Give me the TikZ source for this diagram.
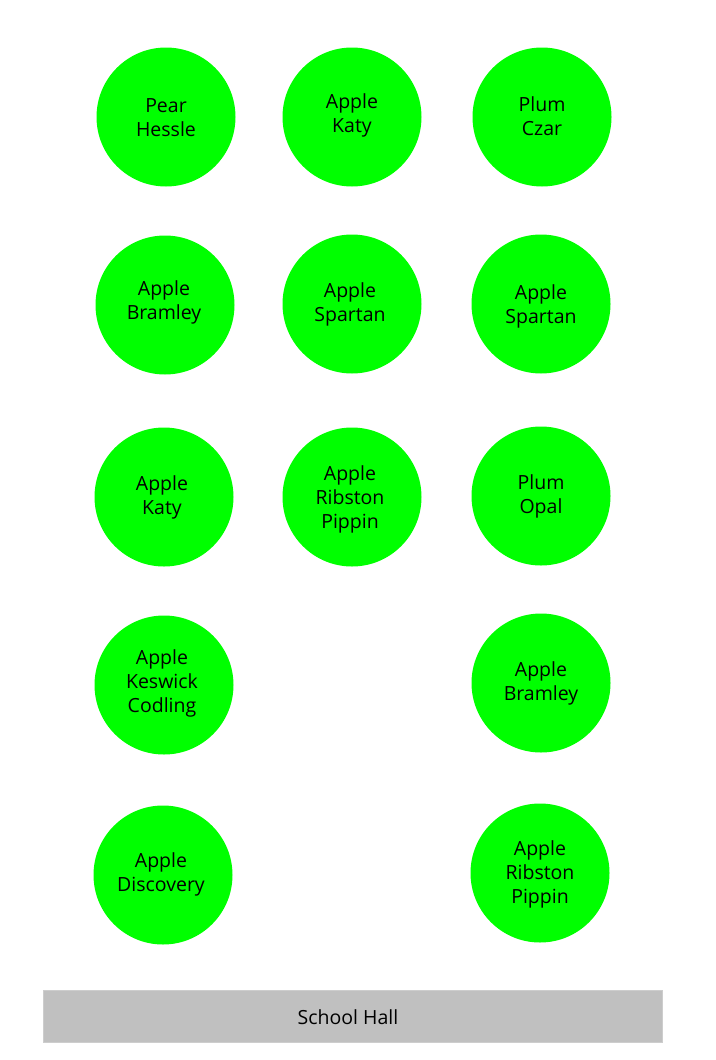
\documentclass[tikz,border=0pt]{standalone}
\usepackage{fontspec}
\setmainfont{Open Sans}
\begin{document}
\begin{tikzpicture}[x=1pt,y=-1pt,
  tree/.style={circle,fill=treegreen,draw=none,minimum size=139pt,inner sep=0pt},
  lbl/.style={align=center,inner sep=0pt,font=\fontsize{19.5}{24}\selectfont,text=black},
  hall/.style={fill=hallgray,draw=hallgray!80!white,line width=0.8pt,minimum width=619pt,minimum height=52pt,inner sep=0pt}]
\definecolor{treegreen}{HTML}{00FF00}
\definecolor{hallgray}{HTML}{C0C0C0}
\useasboundingbox (0,0) rectangle (715,1060);
\fill[white] (0,0) rectangle (715,1060);
% trees
\node[tree] (c1) at (166,117) {};
\node[tree] (c2) at (352,117) {};
\node[tree] (c3) at (542,117) {};
\node[tree] (c4) at (165,305) {};
\node[tree] (c5) at (352,304) {};
\node[tree] (c6) at (541,304) {};
\node[tree] (c7) at (164,497) {};
\node[tree] (c8) at (352,497) {};
\node[tree] (c9) at (541,496) {};
\node[tree] (c10) at (164,685) {};
\node[tree] (c11) at (541,683) {};
\node[tree] (c12) at (163,875) {};
\node[tree] (c13) at (540,873) {};
% labels
\node[lbl] (t1) at (166,118) {Pear\\Hessle};
\node[lbl] (t2) at (352,115) {Apple\\Katy};
\node[lbl] (t3) at (542,116) {Plum\\Czar};
\node[lbl] (t4) at (164,302) {Apple\\Bramley};
\node[lbl] (t5) at (350,304) {Apple\\Spartan};
\node[lbl] (t6) at (541,306) {Apple\\Spartan};
\node[lbl] (t7) at (162,497) {Apple\\Katy};
\node[lbl] (t8) at (350,499) {Apple\\Ribston\\Pippin};
\node[lbl] (t9) at (541,496) {Plum\\Opal};
\node[lbl] (t10) at (162,683) {Apple\\Keswick\\Codling};
\node[lbl] (t11) at (541,683) {Apple\\Bramley};
\node[lbl] (t12) at (161,874) {Apple\\Discovery};
\node[lbl] (t13) at (540,874) {Apple\\Ribston\\Pippin};
% hall
\node[hall] (hall) at (352.5,1016) {};
\node[lbl] (hallt) at (348,1017) {School Hall};
\end{tikzpicture}
\end{document}
